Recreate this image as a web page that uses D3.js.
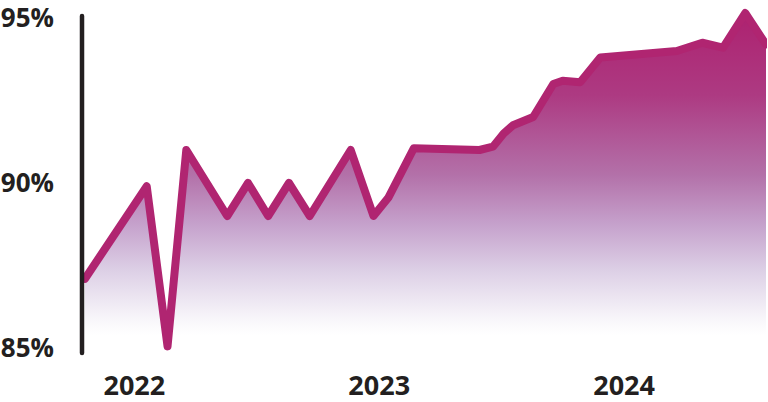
<!DOCTYPE html>
<html>
<head>
<meta charset="utf-8">
<script src="https://cdn.jsdelivr.net/npm/d3@7"></script>
<style>
  html, body { margin: 0; padding: 0; background: #fff; }
  svg { display: block; }
  text { font-family: "Open Sans", "Noto Sans", sans-serif; font-weight: 700; fill: #231f20; }
</style>
</head>
<body>
<div id="chart"></div>
<script>
// Share (%) over time.
const dates = [
    "2021-10-15", "2022-01-15", "2022-02-15", "2022-03-15", "2022-05-15",
    "2022-06-15", "2022-07-15", "2022-08-15", "2022-09-15", "2022-11-15",
    "2022-12-19", "2023-01-10", "2023-02-17", "2023-05-26", "2023-06-15",
    "2023-07-01", "2023-07-15", "2023-08-14", "2023-09-13", "2023-09-27",
    "2023-10-23", "2023-11-22", "2024-03-15", "2024-03-30", "2024-04-22",
    "2024-05-23", "2024-06-25", "2024-07-26"
];
const values = [
    87.1, 89.9, 85.05, 91.0, 89.0,
    90.0, 89.0, 90.0, 89.0, 91.0,
    89.0, 89.55, 91.05, 91.0, 91.1,
    91.5, 91.75, 92.0, 93.0, 93.1,
    93.05, 93.8, 94.0, 94.1, 94.25,
    94.1, 95.15, 94.2
];
const yTicks = [85, 90, 95];
const yearTicks = ["2022-01-01", "2023-01-01", "2024-01-01"];

const width = 768;
const height = 402;
const parse = d3.timeParse("%Y-%m-%d");
const points = dates.map((d, i) => ({ date: parse(d), value: values[i] }));

const x = d3.scaleTime()
    .domain(d3.extent(points, d => d.date))
    .range([85, 766]);
const y = d3.scaleLinear()
    .domain([85, 95])
    .range([348, 18]);

const svg = d3.select("#chart").append("svg")
    .attr("width", width)
    .attr("height", height);

const defs = svg.append("defs");
const grad = defs.append("linearGradient")
    .attr("id", "fade")
    .attr("gradientUnits", "userSpaceOnUse")
    .attr("x1", 0).attr("x2", 0)
    .attr("y1", 15).attr("y2", 335);
[
    [0, "#ad2270"], [0.25, "#ad3a82"], [0.5, "#b371a9"], [0.65, "#c5a0cb"],
    [0.8, "#ddd0e6"], [0.95, "#f8f6fa"], [1, "#ffffff"]
].forEach(([o, c]) => grad.append("stop").attr("offset", o).attr("stop-color", c));

defs.append("clipPath").attr("id", "plot")
    .append("rect").attr("x", 84).attr("y", 0).attr("width", 683).attr("height", height);

const plot = svg.append("g").attr("clip-path", "url(#plot)");

plot.append("path")
    .datum(points)
    .attr("fill", "url(#fade)")
    .attr("d", d3.area().x(d => x(d.date)).y0(y(85)).y1(d => y(d.value)));

plot.append("path")
    .datum(points)
    .attr("fill", "none")
    .attr("stroke", "#b02571")
    .attr("stroke-width", 8)
    .attr("stroke-linejoin", "round")
    .attr("stroke-linecap", "round")
    .attr("d", d3.line().x(d => x(d.date)).y(d => y(d.value)));

// y axis: plain bar with percent labels
svg.append("line")
    .attr("x1", 82).attr("x2", 82)
    .attr("y1", 16).attr("y2", 353)
    .attr("stroke", "#231f20")
    .attr("stroke-width", 4.5)
    .attr("stroke-linecap", "round");

svg.selectAll("text.ytick")
    .data(yTicks)
    .join("text")
    .attr("class", "ytick")
    .attr("x", 54)
    .attr("y", d => y(d))
    .attr("dy", "0.35em")
    .attr("text-anchor", "end")
    .attr("font-size", 26)
    .text(d => d + "%");

svg.selectAll("text.xtick")
    .data(yearTicks.map(parse))
    .join("text")
    .attr("class", "xtick")
    .attr("x", d => x(d) - 3)
    .attr("y", 395)
    .attr("text-anchor", "middle")
    .attr("font-size", 27)
    .text(d => d3.timeFormat("%Y")(d));
</script>
</body>
</html>
